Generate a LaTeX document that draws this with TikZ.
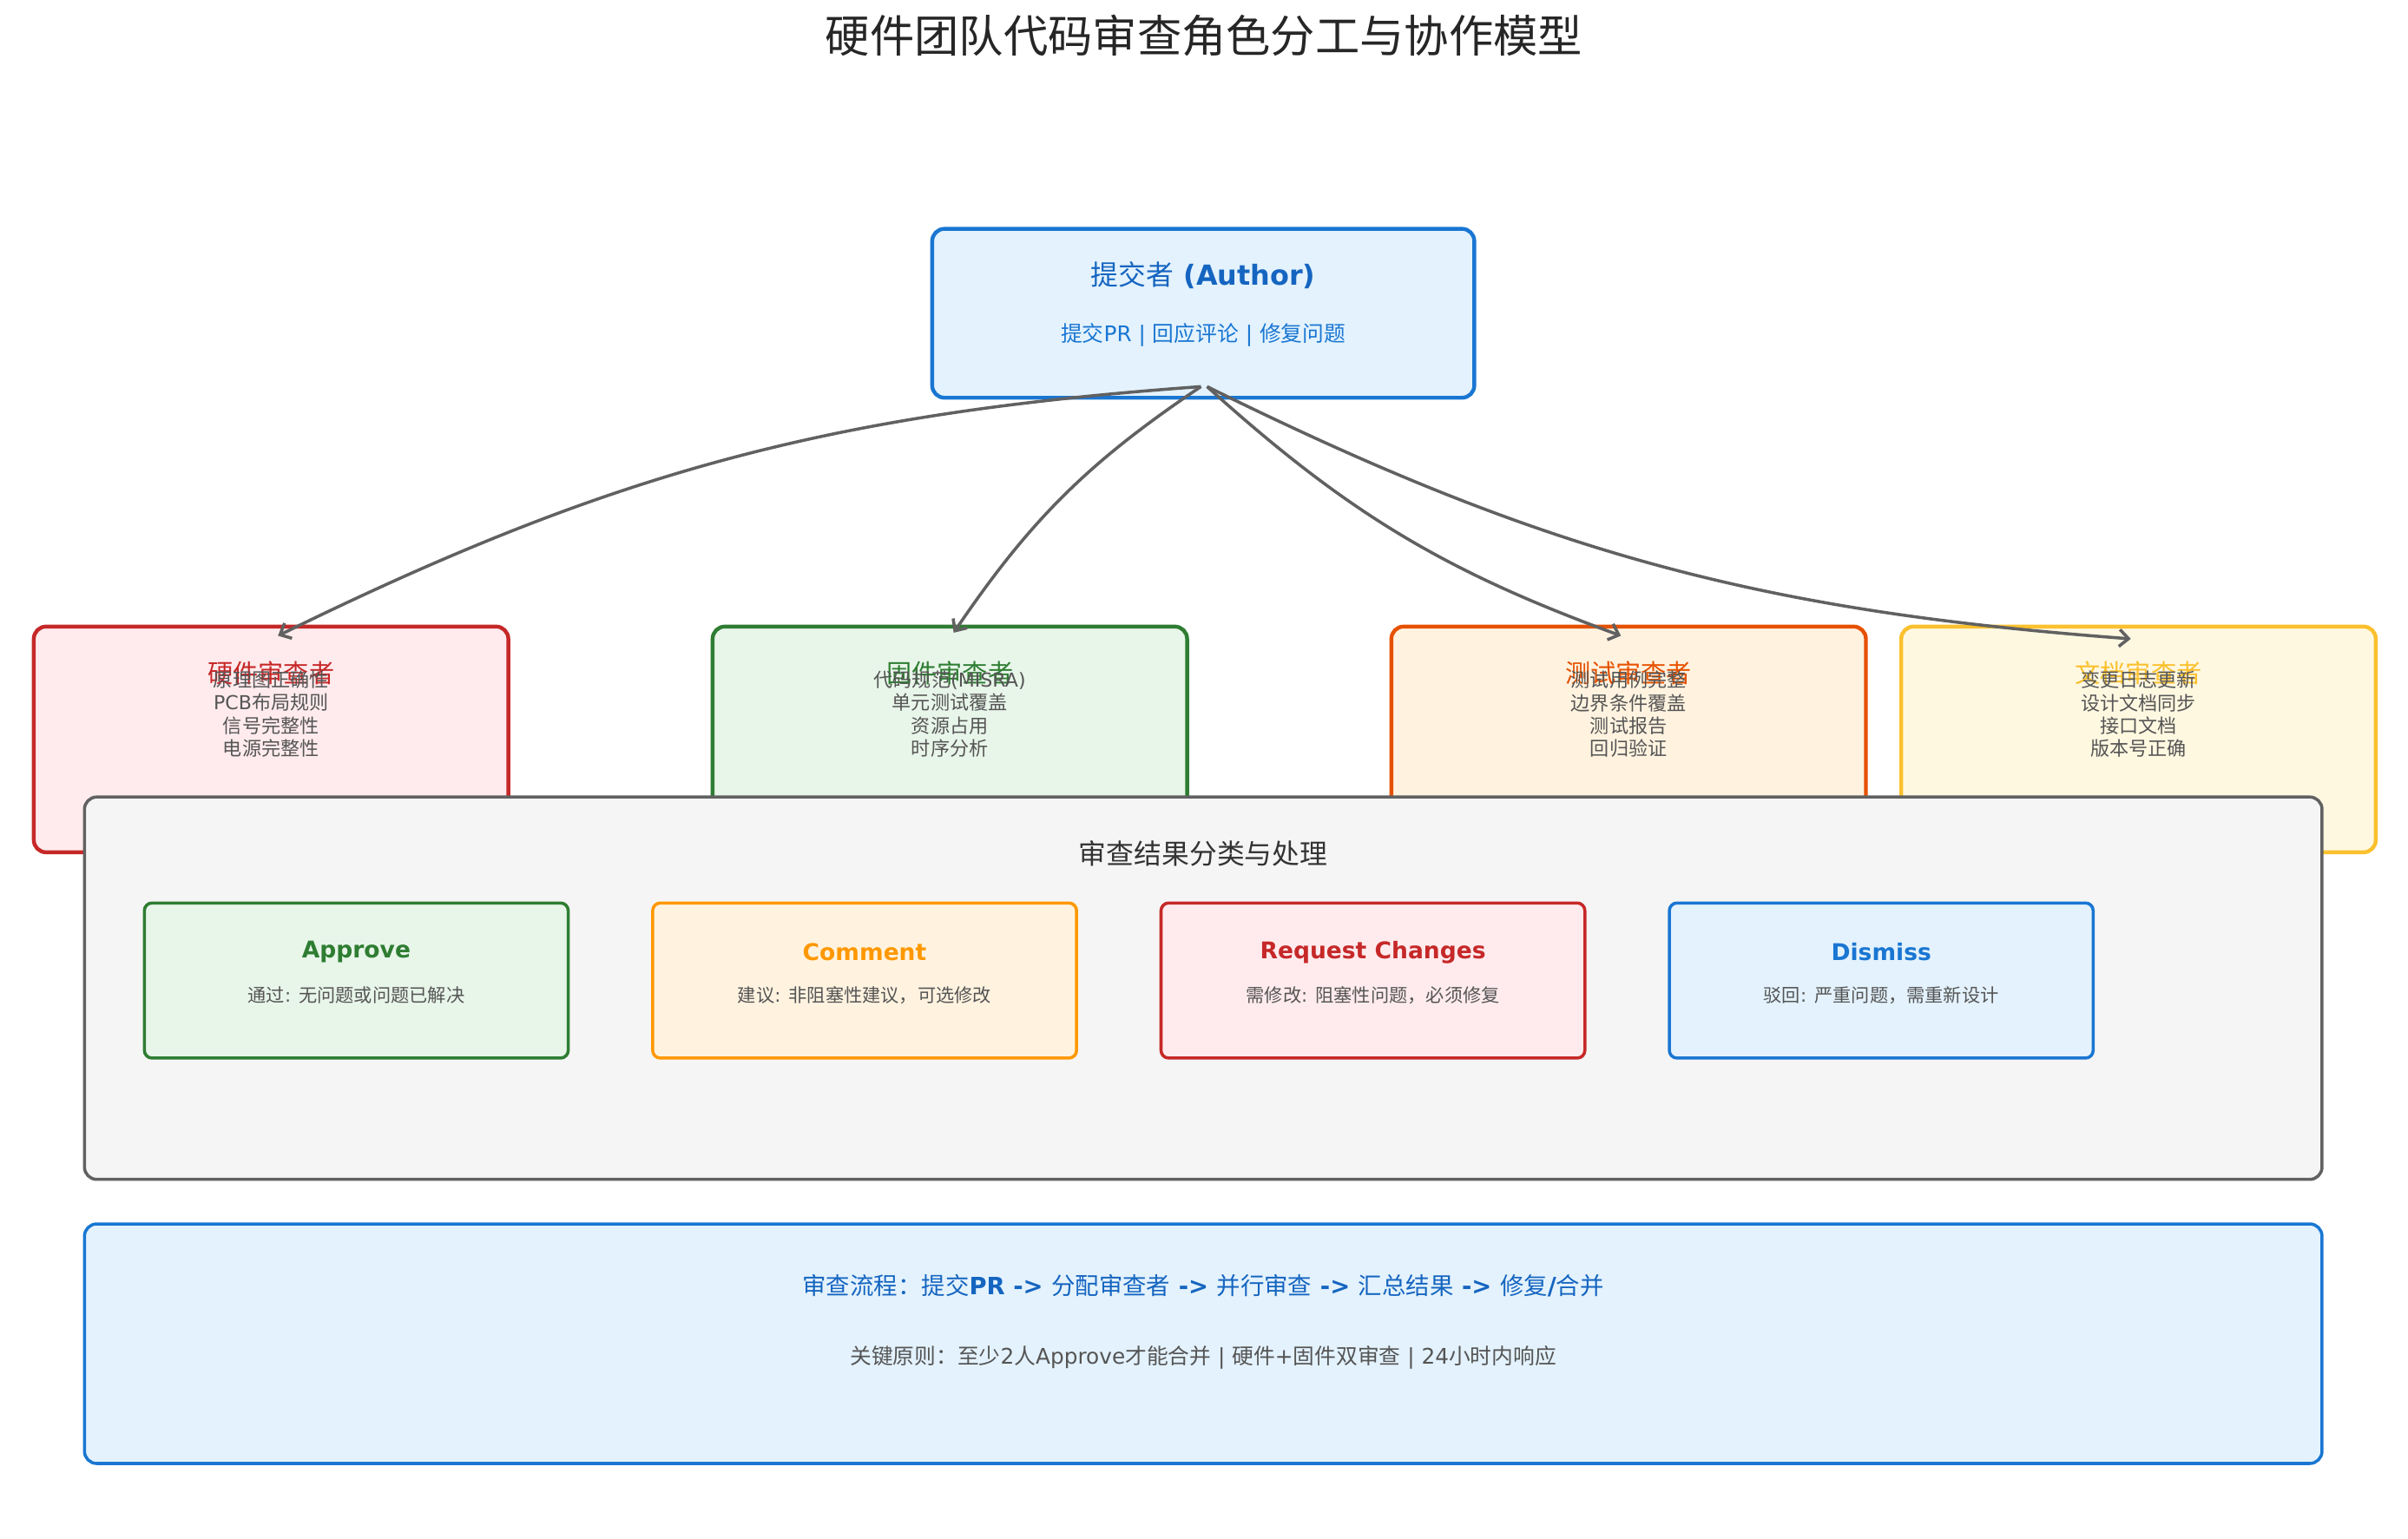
\documentclass[tikz,border=0pt]{standalone}
\usepackage{fontspec}
\setmainfont{DejaVu Sans}
\newfontfamily\latinfont{DejaVu Sans}
\newfontfamily\cjkfont{Noto Sans CJK SC}[BoldFont={Noto Sans CJK SC}]
\usetikzlibrary{positioning,arrows.meta}

% Chinese characters go to the CJK font, everything else stays in DejaVu Sans
\XeTeXinterchartokenstate=1
\newXeTeXintercharclass\cjkclass
\newcount\cjkcode
\newcommand\setcjkrange[2]{%
  \cjkcode=#1
  \loop
    \XeTeXcharclass\cjkcode=\cjkclass
    \advance\cjkcode by 1
  \ifnum\cjkcode<#2 \repeat}
\setcjkrange{"3000}{"3040}
\setcjkrange{"4E00}{"A000}
\setcjkrange{"FF00}{"FFF0}
\XeTeXinterchartoks 0 \cjkclass = {\cjkfont}
\XeTeXinterchartoks 4095 \cjkclass = {\cjkfont}
\XeTeXinterchartoks \cjkclass 0 = {\latinfont}
\XeTeXinterchartoks \cjkclass 4095 = {\latinfont}

\definecolor{blueline}{HTML}{1976D2}
\definecolor{bluefill}{HTML}{E3F2FD}
\definecolor{bluetext}{HTML}{1565C0}
\definecolor{hwred}{HTML}{C62828}
\definecolor{hwfill}{HTML}{FFEBEE}
\definecolor{fwgreen}{HTML}{2E7D32}
\definecolor{fwfill}{HTML}{E8F5E9}
\definecolor{testorange}{HTML}{E65100}
\definecolor{testfill}{HTML}{FFF3E0}
\definecolor{docyellow}{HTML}{FBC02D}
\definecolor{docfill}{HTML}{FFF8E1}
\definecolor{cmorange}{HTML}{FF9800}
\definecolor{panelgray}{HTML}{616161}
\definecolor{panelfill}{HTML}{F5F5F5}
\definecolor{arrowgray}{HTML}{616161}
\definecolor{textgray}{HTML}{555555}
\definecolor{darktext}{HTML}{333333}

\begin{document}
\begin{tikzpicture}[x=1pt,y=-1pt]

\tikzstyle{revbox} = [rectangle, rounded corners=8pt, minimum width=309pt, minimum height=147pt, line width=2.5pt, outer sep=0pt]
\tikzstyle{revtitle} = [font=\fontsize{16.5}{20}\selectfont]
\tikzstyle{revtext} = [align=center, text=textgray, font=\fontsize{12.5}{14.8}\selectfont]
\tikzstyle{resbox} = [rectangle, rounded corners=5pt, minimum width=276pt, minimum height=101pt, line width=2pt, outer sep=0pt]
\tikzstyle{restitle} = [font=\bfseries\fontsize{15}{18}\selectfont]
\tikzstyle{restext} = [text=textgray, font=\fontsize{12}{14}\selectfont]
\tikzstyle{panel} = [rectangle, rounded corners=8pt, minimum width=1457pt, line width=2pt]
\tikzstyle{arrow} = [line width=2pt, draw=arrowgray, -{Straight Barb[length=6pt,width=11pt]}]

\useasboundingbox (0,0) rectangle (1568,1002);

\node (title) [font=\fontsize{29}{34}\selectfont, text=black!85] at (784,23) {硬件团队代码审查角色分工与协作模型};

\node (author) [rectangle, rounded corners=8pt, minimum width=353pt, minimum height=110pt, line width=2.5pt, draw=blueline, fill=bluefill] at (783.5,204) {};
\node (authorname) [text=bluetext, font=\bfseries\fontsize{18}{22}\selectfont] at ([yshift=25pt]author.center) {提交者 (Author)};
\node (authortasks) [text=blueline, font=\fontsize{14}{17}\selectfont] at ([yshift=-14pt]author.center) {提交PR | 回应评论 | 修复问题};

\node (hw) [revbox, draw=hwred, fill=hwfill] at (176.5,481.5) {};
\node (fw) [revbox, draw=fwgreen, fill=fwfill, right=133pt of hw] {};
\node (test) [revbox, draw=testorange, fill=testfill, right=133pt of fw] {};
\node (doc) [revbox, draw=docyellow, fill=docfill, right=23pt of test] {};

\node (hwname) [revtitle, text=hwred] at ([yshift=-30pt]hw.north) {硬件审查者};
\node (hwtasks) [revtext] at ([yshift=-57pt]hw.north) {原理图正确性\\PCB布局规则\\信号完整性\\电源完整性};
\node (fwname) [revtitle, text=fwgreen] at ([yshift=-30pt]fw.north) {固件审查者};
\node (fwtasks) [revtext] at ([yshift=-57pt]fw.north) {代码规范(MISRA)\\单元测试覆盖\\资源占用\\时序分析};
\node (testname) [revtitle, text=testorange] at ([yshift=-30pt]test.north) {测试审查者};
\node (testtasks) [revtext] at ([yshift=-57pt]test.north) {测试用例完整\\边界条件覆盖\\测试报告\\回归验证};
\node (docname) [revtitle, text=docyellow] at ([yshift=-30pt]doc.north) {文档审查者};
\node (doctasks) [revtext] at ([yshift=-57pt]doc.north) {变更日志更新\\设计文档同步\\接口文档\\版本号正确};

\draw [arrow] ([xshift=-1.5pt,yshift=8.5pt]author.south) to[bend right=11] ([xshift=4.5pt,yshift=-6pt]hw.north);
\draw [arrow] ([xshift=-1.5pt,yshift=8.5pt]author.south) to[bend right=11] ([xshift=2.5pt,yshift=-4pt]fw.north);
\draw [arrow] ([xshift=2.5pt,yshift=8.5pt]author.south) to[bend right=11] ([xshift=-5pt,yshift=-6pt]test.north);
\draw [arrow] ([xshift=2.5pt,yshift=8.5pt]author.south) to[bend right=11] ([xshift=-5pt,yshift=-8pt]doc.north);

\node (results) [panel, minimum height=249pt, draw=panelgray, fill=panelfill] at (783.5,643.5) {};
\node (resultsname) [text=darktext, font=\fontsize{18}{22}\selectfont] at ([yshift=-38pt]results.north) {审查结果分类与处理};

\node (approve) [resbox, draw=fwgreen, fill=fwfill] at (232,638.5) {};
\node (comment) [resbox, draw=cmorange, fill=testfill, right=55pt of approve] {};
\node (request) [resbox, draw=hwred, fill=hwfill, right=55pt of comment] {};
\node (dismiss) [resbox, draw=blueline, fill=bluefill, right=55pt of request] {};

\node (approvename) [restitle, text=fwgreen] at ([yshift=18.5pt]approve.center) {Approve};
\node (approvetext) [restext] at ([yshift=-9.5pt]approve.center) {通过: 无问题或问题已解决};
\node (commentname) [restitle, text=cmorange] at ([yshift=18.5pt]comment.center) {Comment};
\node (commenttext) [restext] at ([yshift=-9.5pt]comment.center) {建议: 非阻塞性建议，可选修改};
\node (requestname) [restitle, text=hwred] at ([yshift=18.5pt]request.center) {Request Changes};
\node (requesttext) [restext] at ([yshift=-9.5pt]request.center) {需修改: 阻塞性问题，必须修复};
\node (dismissname) [restitle, text=blueline] at ([yshift=18.5pt]dismiss.center) {Dismiss};
\node (dismisstext) [restext] at ([yshift=-9.5pt]dismiss.center) {驳回: 严重问题，需重新设计};

\node (flow) [panel, minimum height=156pt, draw=blueline, fill=bluefill] at (783.5,875) {};
\node (flowsteps) [text=bluetext, font=\bfseries\fontsize{15.5}{18}\selectfont] at ([yshift=38pt]flow.center) {审查流程：提交PR -> 分配审查者 -> 并行审查 -> 汇总结果 -> 修复/合并};
\node (flowrules) [text=textgray, font=\fontsize{14}{17}\selectfont] at ([yshift=-9pt]flow.center) {关键原则：至少2人Approve才能合并 | 硬件+固件双审查 | 24小时内响应};

\end{tikzpicture}
\end{document}
